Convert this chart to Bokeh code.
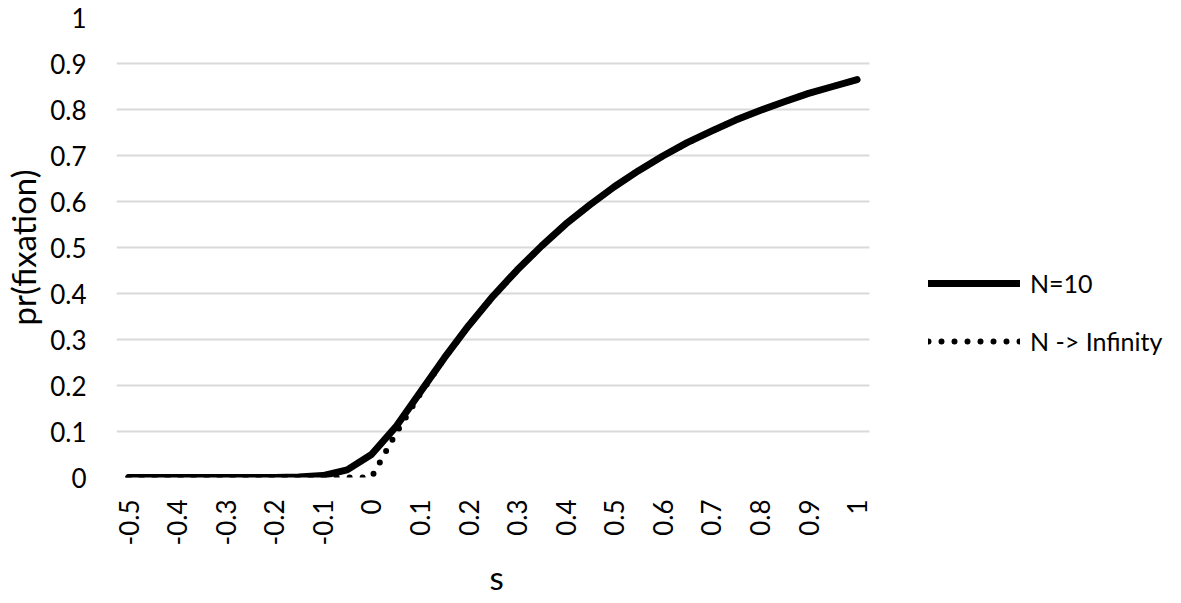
from bokeh.plotting import figure
from bokeh.models import FixedTicker, CustomJSTickFormatter, Legend, LegendItem, Range1d, Title
from bokeh.embed import file_html
from bokeh.resources import INLINE
import math

# ---- data ----
s_values = [-0.5, -0.45, -0.4, -0.35, -0.3, -0.25, -0.2, -0.15, -0.1, -0.05,
            0.0, 0.05, 0.1, 0.15, 0.2, 0.25, 0.3, 0.35, 0.4, 0.45,
            0.5, 0.55, 0.6, 0.65, 0.7, 0.75, 0.8, 0.85, 0.9, 0.95, 1.0]
n10 = [0.0, 0.0, 0.0, 0.0, 0.0, 0.00003, 0.00017, 0.0009, 0.0041, 0.0165,
       0.05, 0.110, 0.185, 0.260, 0.330, 0.394, 0.451, 0.503, 0.551, 0.593,
       0.632, 0.667, 0.699, 0.728, 0.753, 0.777, 0.798, 0.817, 0.835, 0.850, 0.865]
n_inf = [0.0, 0.0, 0.0, 0.0, 0.0, 0.0, 0.0, 0.0, 0.0, 0.0,
         0.0, 0.095, 0.181, 0.259, 0.330, 0.393, 0.451, 0.503, 0.551, 0.593,
         0.632, 0.667, 0.699, 0.727, 0.753, 0.777, 0.798, 0.817, 0.835, 0.850, 0.865]
x_ticks = [-0.5, -0.4, -0.3, -0.2, -0.1, 0, 0.1, 0.2, 0.3, 0.4, 0.5, 0.6, 0.7, 0.8, 0.9, 1]
y_ticks = [0, 0.1, 0.2, 0.3, 0.4, 0.5, 0.6, 0.7, 0.8, 0.9, 1]
series_names = ["N=10", "N -> Infinity"]
x_title = "s"
y_title = "pr(fixation)"

FONT = "Lato"
TXT = "#000000"

# plot region spans -0.525..1.025; the frame continues to the right to hold the legend
X_LO, X_HI, X_END = -0.525, 1.025, 1.635

p = figure(width=1165, height=603,
           min_border_left=110, min_border_right=0, min_border_top=17, min_border_bottom=126,
           x_range=Range1d(X_LO, X_END), y_range=Range1d(0, 1),
           output_backend="svg", toolbar_location=None,
           y_axis_label=y_title)
p.outline_line_color = None

# axes
fmt = CustomJSTickFormatter(code="return String(tick)")
for ax in (p.xaxis[0], p.yaxis[0]):
    ax.axis_line_color = None
    ax.major_tick_line_color = None
    ax.minor_tick_line_color = None
    ax.major_tick_out = 0
    ax.major_tick_in = 0
    ax.minor_tick_out = 0
    ax.minor_tick_in = 0
    ax.major_label_text_font = FONT
    ax.major_label_text_font_size = "26px"
    ax.major_label_text_color = TXT
    ax.axis_label_text_font = FONT
    ax.axis_label_text_font_style = "normal"
    ax.axis_label_text_color = TXT
    ax.axis_label_text_font_size = "33px"
    ax.formatter = fmt

p.xaxis[0].ticker = FixedTicker(ticks=x_ticks)
p.xaxis[0].major_label_orientation = math.pi / 2
p.xaxis[0].major_label_standoff = 22

p.yaxis[0].ticker = FixedTicker(ticks=y_ticks)
p.yaxis[0].major_label_standoff = 30
p.yaxis[0].axis_label_standoff = 4

# x-axis title, centred under the plotting region (not under the legend)
p.add_layout(Title(text=x_title, align="left", offset=373, standoff=13,
                   text_font=FONT, text_font_size="33px", text_font_style="normal",
                   text_color=TXT), "below")

p.xgrid.grid_line_color = None
p.ygrid.grid_line_color = "#d9d9d9"
p.ygrid.grid_line_width = 2
p.ygrid.cross_bounds = (X_LO, X_HI)

r1 = p.line(s_values, n10, line_color="black", line_width=7, line_cap="round", line_join="round")
r2 = p.line(s_values, n_inf, line_color="black", line_width=6, line_cap="round", line_dash="0 13")

legend = Legend(items=[LegendItem(label=series_names[0], renderers=[r1]),
                       LegendItem(label=series_names[1], renderers=[r2])],
                location=(812, 121), orientation="vertical",
                padding=0, margin=0, spacing=28,
                glyph_width=92, glyph_height=30, label_height=30, label_standoff=10,
                label_text_font=FONT, label_text_font_size="25px", label_text_color=TXT,
                border_line_alpha=0, background_fill_alpha=0)
p.add_layout(legend)

open("out.html", "w").write(file_html(p, INLINE))
